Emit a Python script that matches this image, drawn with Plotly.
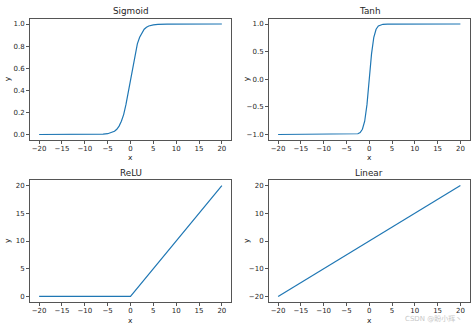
import plotly.graph_objects as go

# ---- data ----
sig_x = [-20, -15, -10, -8, -6, -5, -4, -3.5, -3, -2.5, -2, -1.5, -1, -0.5, 0, 0.5, 1, 1.5, 2, 2.5, 3, 3.5, 4, 5, 6, 8, 10, 15, 20]
sig_y = [0.0, 0.0, 0.00005, 0.0003, 0.0025, 0.007, 0.018, 0.029, 0.047, 0.076, 0.12, 0.18, 0.27, 0.38, 0.5, 0.62, 0.73, 0.82, 0.88, 0.924, 0.953, 0.971, 0.982, 0.993, 0.9975, 0.9997, 1.0, 1.0, 1.0]

tanh_x = [-20, -10, -5, -4, -3, -2.5, -2, -1.5, -1, -0.5, 0, 0.5, 1, 1.5, 2, 2.5, 3, 4, 5, 10, 20]
tanh_y = [-1.0, -1.0, -0.9999, -0.9993, -0.995, -0.987, -0.964, -0.905, -0.76, -0.46, 0.0, 0.46, 0.76, 0.905, 0.964, 0.987, 0.995, 0.9993, 0.9999, 1.0, 1.0]

relu_x = [-20, 0, 20]
relu_y = [0, 0, 20]

lin_x = [-20, 20]
lin_y = [-20, 20]

titles = ["Sigmoid", "Tanh", "ReLU", "Linear"]
x_ticks = [-20, -15, -10, -5, 0, 5, 10, 15, 20]
sig_ticks = [0.0, 0.2, 0.4, 0.6, 0.8, 1.0]
tanh_ticks = [-1.0, -0.5, 0.0, 0.5, 1.0]
relu_ticks = [0, 5, 10, 15, 20]
lin_ticks = [-20, -10, 0, 10, 20]

W, H = 474, 324
LINE = "#1f77b4"
FONT = "DejaVu Sans"
TXT = "#262626"
SPINE = "#555555"

def px_x(a, b):
    return [a / W, b / W]

def px_y(top, bottom):
    return [1 - bottom / H, 1 - top / H]

panels = [
    dict(x=sig_x, y=sig_y, xd=px_x(30, 231), yd=px_y(18.5, 140), yr=[-0.05, 1.05], yt=sig_ticks, yfmt=".1f"),
    dict(x=tanh_x, y=tanh_y, xd=px_x(269, 469.5), yd=px_y(18.5, 140), yr=[-1.1, 1.1], yt=tanh_ticks, yfmt=".1f"),
    dict(x=relu_x, y=relu_y, xd=px_x(30, 231), yd=px_y(180, 302), yr=[-1, 21], yt=relu_ticks, yfmt="d"),
    dict(x=lin_x, y=lin_y, xd=px_x(269, 469.5), yd=px_y(180, 302), yr=[-22, 22], yt=lin_ticks, yfmt="d"),
]

fig = go.Figure()
layout = dict(
    width=W, height=H,
    margin=dict(l=0, r=0, t=0, b=0),
    paper_bgcolor="white", plot_bgcolor="white",
    showlegend=False,
    font=dict(family=FONT, color=TXT, size=7),
)
annotations = []
for i, p in enumerate(panels):
    n = "" if i == 0 else str(i + 1)
    fig.add_trace(go.Scatter(x=p["x"], y=p["y"], mode="lines",
                             line=dict(color=LINE, width=1.2),
                             xaxis="x" + n, yaxis="y" + n, hoverinfo="skip"))
    axstyle = dict(showgrid=False, zeroline=False, showline=True, linecolor=SPINE,
                   linewidth=1, mirror=True, ticks="outside", ticklen=3,
                   tickcolor=SPINE, tickwidth=0.8,
                   tickfont=dict(family=FONT, size=7, color=TXT))
    layout["xaxis" + n] = dict(domain=p["xd"], range=[-22, 22], tickvals=x_ticks,
                               anchor="y" + n, ticklabelstandoff=-1, **axstyle)
    layout["yaxis" + n] = dict(domain=p["yd"], range=p["yr"], tickvals=p["yt"],
                               tickformat=p["yfmt"], anchor="x" + n, **axstyle)
    cx = (p["xd"][0] + p["xd"][1]) / 2
    annotations.append(dict(text=titles[i], x=cx, y=p["yd"][1] + 7.5 / H,
                            xref="paper", yref="paper", xanchor="center", yanchor="middle",
                            showarrow=False, font=dict(family=FONT, size=8.8, color=TXT)))
    annotations.append(dict(text="x", x=cx, y=p["yd"][0] - 18 / H,
                            xref="paper", yref="paper", xanchor="center", yanchor="middle",
                            showarrow=False, font=dict(family=FONT, size=7.5, color=TXT)))
    cy = (p["yd"][0] + p["yd"][1]) / 2
    annotations.append(dict(text="y", x=p["xd"][0] - 23 / W, y=cy, textangle=-90,
                            xref="paper", yref="paper", xanchor="center", yanchor="middle",
                            showarrow=False, font=dict(family=FONT, size=7.5, color=TXT)))

annotations.append(dict(text="CSDN @盼小辉丶", x=433 / W, y=0,
                        xref="paper", yref="paper", xanchor="center", yanchor="bottom",
                        showarrow=False, borderpad=0,
                        font=dict(family="DejaVu Sans, Noto Sans CJK SC", size=7, color="#c8c8c8")))
layout["annotations"] = annotations
fig.update_layout(**layout)
fig.write_html("out.html")
